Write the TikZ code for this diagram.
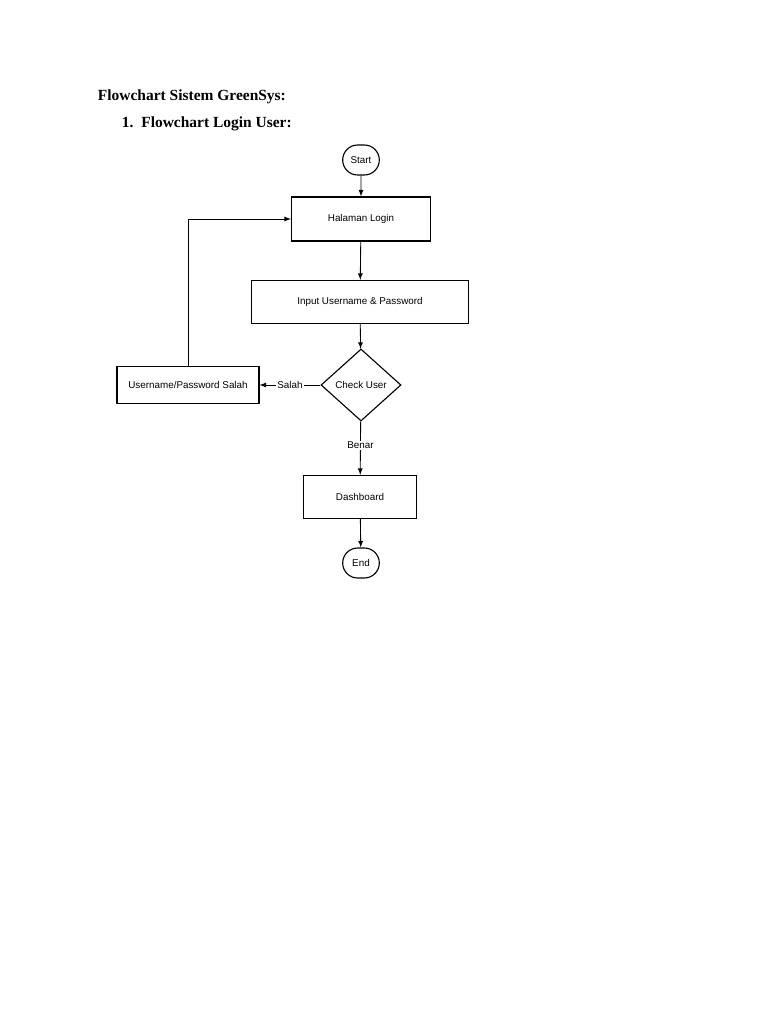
\documentclass[tikz,border=0pt]{standalone}
\usepackage{fontspec}
\setmainfont{Liberation Serif}
\setsansfont{Liberation Sans}
\usetikzlibrary{shapes.geometric,shapes.misc,positioning}
\begin{document}
\begin{tikzpicture}[x=0.025cm,y=-0.025cm]

    % Styles
    \tikzstyle{terminal} = [rounded rectangle, minimum width=1.15cm, minimum height=0.75cm, draw=black, thick, font=\sffamily\fontsize{7}{8}\selectfont]
    \tikzstyle{process} = [rectangle, text centered, draw=black, thick, font=\sffamily\fontsize{7}{8}\selectfont]
    \tikzstyle{decision} = [diamond, aspect=1.1, minimum width=2cm, minimum height=1.8cm, inner sep=0pt, draw=black, thick, font=\sffamily\fontsize{7}{8}\selectfont]
    \tikzstyle{lbl} = [fill=white, inner sep=1pt, font=\sffamily\fontsize{7}{8}\selectfont]
    \tikzstyle{arrow} = [semithick,->,>=latex]

    \useasboundingbox (0,0) rectangle (768,1024);

    % Judul
    \node[anchor=base west, font=\bfseries\fontsize{11}{13}\selectfont] (title) at (93,101) {Flowchart Sistem GreenSys:};
    \node[anchor=base west, font=\bfseries\fontsize{11}{13}\selectfont] (sub) at (117,128) {1.\enspace Flowchart Login User:};

    % Noeuds
    \node (start) [terminal] at (361,160) {Start};
    \node (login) [process, minimum width=3.475cm, minimum height=1.1cm] at (361,219) {Halaman Login};
    \node (input) [process, minimum width=5.425cm, minimum height=1.075cm] at (360,302) {Input Username \& Password};
    \node (check) [decision] at (361,385) {Check User};
    \node (salah) [process, minimum width=3.55cm, minimum height=0.925cm] at (188,385) {Username/Password Salah};
    \node (dash) [process, minimum width=2.825cm, minimum height=1.075cm] at (360,497) {Dashboard};
    \node (end) [terminal] at (361,563) {End};

    % Fleches
    \draw [arrow] (start) -- (login);
    \draw [arrow] (login) -- (input);
    \draw [arrow] (input) -- (check);
    \draw [arrow] (check) -- node[lbl] {Salah} (salah);
    \draw [arrow] (check) -- node[lbl, pos=0.45] {Benar} (dash);
    \draw [arrow] (dash) -- (end);
    \draw [arrow] (salah.north) |- (login.west);

\end{tikzpicture}
\end{document}
